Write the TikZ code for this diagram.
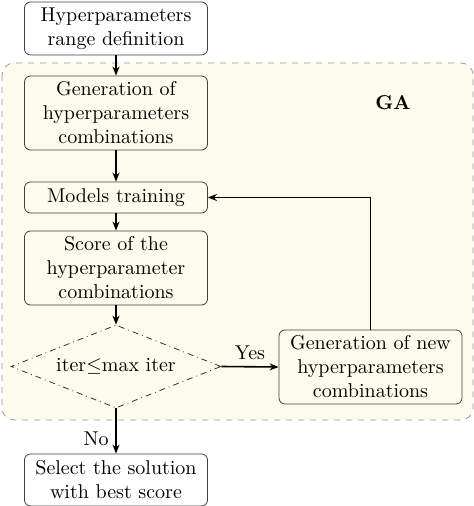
\documentclass[tikz,border=0pt]{standalone}
\usetikzlibrary{shapes.geometric,arrows.meta}
\definecolor{gaback}{RGB}{253,251,236}
\tikzset{
  stepbox/.style={draw=black!75, rounded corners=3pt, minimum width=91.5pt, text width=88pt, align=center, inner sep=1pt},
  decision/.style={diamond, draw=black!80, dash dot, aspect=2.53, minimum width=105pt, minimum height=41.5pt, inner sep=0pt},
  flow/.style={-{Stealth[length=4.5pt,width=3.5pt]}, thick},
}
\begin{document}
\begin{tikzpicture}[x=0.5pt,y=-0.5pt]
  \useasboundingbox (0,0) rectangle (474,506);
  % GA region
  \draw [black!40, dashed, fill=gaback, rounded corners=6pt] (2,63) rectangle (473,420);
  \node [font=\bfseries] (ga) at (393,103) {GA};
  % steps
  \node [stepbox, fill=white, minimum height=26.5pt] (range) at (116,28.5) {Hyperparameters\\range definition};
  \node [stepbox, minimum height=37pt] (gen) at (116,113) {Generation of\\hyperparameters\\combinations};
  \node [stepbox, minimum height=15.5pt] (train) at (116,197.5) {Models training};
  \node [stepbox, minimum height=37pt] (score) at (116,268) {Score of the\\hyperparameter\\combinations};
  \node [decision] (iter) at (116,366.5) {iter${\leq}$max iter};
  \node [stepbox, minimum height=37pt] (newgen) at (370.5,367) {Generation of new\\hyperparameters\\combinations};
  \node [stepbox, fill=white, minimum height=26pt] (best) at (116,480) {Select the solution\\with best score};
  % connectors
  \draw [flow] (range) -- (gen);
  \draw [flow] (gen) -- (train);
  \draw [flow] (train) -- (score);
  \draw [flow] (score) -- (iter);
  \draw [flow] (iter.east) -- node [above] {Yes} (newgen.west);
  \draw [flow] (newgen.north) |- (train.east);
  \draw [flow] (iter.south) -- node [left, yshift=-4pt] {No} (best.north);
\end{tikzpicture}
\end{document}
